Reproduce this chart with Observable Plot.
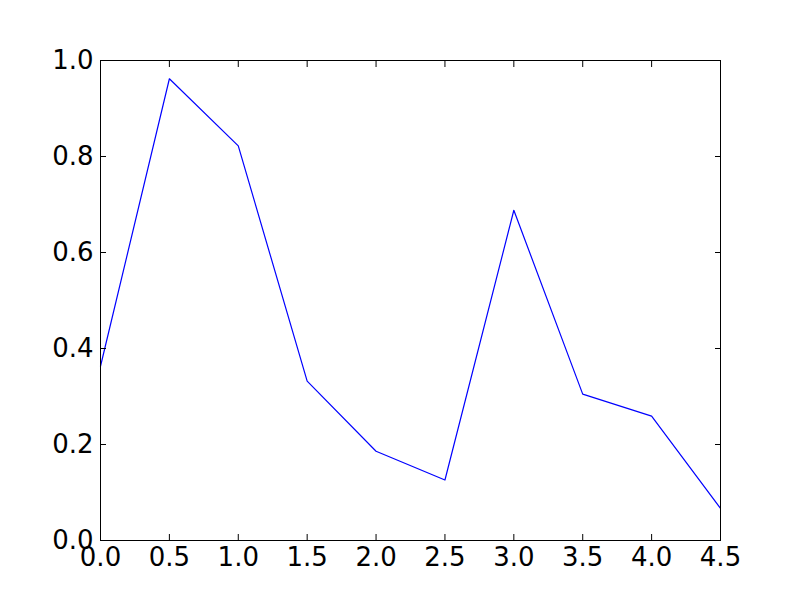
<!DOCTYPE html>
<html>
<head>
<meta charset="utf-8">
<script src="https://cdn.jsdelivr.net/npm/d3@7"></script>
<script src="https://cdn.jsdelivr.net/npm/@observablehq/plot@0.6"></script>
<style>
  html, body { margin: 0; padding: 0; background: #fff; }
  #chart svg { display: block; }
</style>
</head>
<body>
<div id="chart"></div>
<script>
const xValues = [0, 0.5, 1.0, 1.5, 2.0, 2.5, 3.0, 3.5, 4.0, 4.5];
const yValues = [0.363, 0.962, 0.822, 0.332, 0.186, 0.126, 0.688, 0.305, 0.259, 0.067];
const xTicks = [0, 0.5, 1.0, 1.5, 2.0, 2.5, 3.0, 3.5, 4.0, 4.5];
const yTicks = [0, 0.2, 0.4, 0.6, 0.8, 1.0];

const data = xValues.map((x, i) => ({x, y: yValues[i]}));
const fmt = d3.format(".1f");
const blank = () => "";

const chart = Plot.plot({
  width: 800,
  height: 600,
  marginLeft: 100,
  marginRight: 80,
  marginTop: 60,
  marginBottom: 60,
  style: {fontFamily: "DejaVu Sans", fontSize: "26px", color: "#000", background: "#fff"},
  x: {domain: [0, 4.5], ticks: xTicks, tickFormat: fmt},
  y: {domain: [0, 1], ticks: yTicks, tickFormat: fmt},
  marks: [
    Plot.line(data, {x: "x", y: "y", stroke: "#0000ff", strokeWidth: 1.2}),
    Plot.axisX({anchor: "bottom", ticks: xTicks, tickSize: -6, tickFormat: blank, label: null}),
    Plot.axisX({anchor: "top", ticks: xTicks, tickSize: -6, tickFormat: blank, label: null}),
    Plot.axisY({anchor: "left", ticks: yTicks, tickSize: -6, tickFormat: blank, label: null}),
    Plot.axisY({anchor: "right", ticks: yTicks, tickSize: -6, tickFormat: blank, label: null}),
    Plot.axisX({anchor: "bottom", ticks: xTicks, tickSize: 0, tickPadding: 7, tickFormat: fmt, label: null, fontSize: 26}),
    Plot.axisY({anchor: "left", ticks: yTicks, tickSize: 0, tickPadding: 7, tickFormat: fmt, label: null, fontSize: 26}),
    Plot.frame({stroke: "#000", strokeWidth: 1})
  ]
});
document.getElementById("chart").appendChild(chart);
</script>
</body>
</html>
